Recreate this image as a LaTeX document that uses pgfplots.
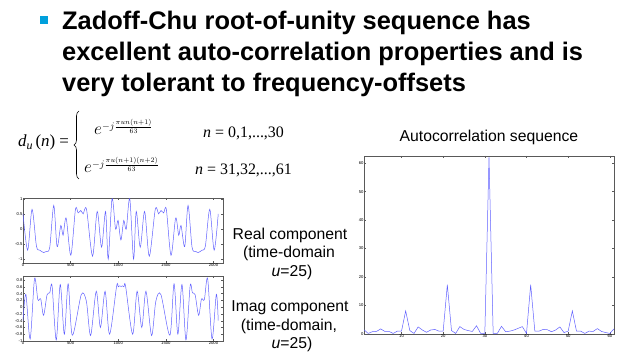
\documentclass[border=0pt]{standalone}
\usepackage{pgfplots}
\pgfplotsset{compat=1.18}
\usetikzlibrary{decorations.pathreplacing}
\usepackage{fontspec}
\setmainfont{Liberation Sans}
\newfontfamily\serif{Liberation Serif}
\definecolor{zcblue}{RGB}{95,95,255}
\definecolor{bulletblue}{RGB}{0,160,220}
\pgfplotsset{matstyle/.style={
  scale only axis,
  axis line style={black!65, line width=0.4pt},
  tick style={black!65, line width=0.3pt},
  major tick length=2bp,
  tick align=inside,
  ticklabel style={font=\fontsize{4.2}{4.5}\selectfont, inner sep=0.4pt},
  /pgf/number format/assume math mode=true,
  /pgf/number format/1000 sep={},
  scaled ticks=false,
  anchor=south west,
}}
\begin{document}
\begin{tikzpicture}
\path[use as bounding box] (0,0) rectangle (624bp,359bp);
% bullet and title
\fill[bulletblue] (40bp,335bp) rectangle (48bp,343bp);
\begin{scope}[every node/.style={anchor=base west, inner sep=0pt, font=\fontsize{25.5}{30}\selectfont\bfseries}]
\node at (62bp,329bp) {Zadoff-Chu root-of-unity sequence has};
\node at (62bp,298bp) {excellent auto-correlation properties and is};
\node at (62bp,267bp) {very tolerant to frequency-offsets};
\end{scope}
% formula
\node[anchor=base west, inner sep=0pt] at (18bp,212bp) {\serif\fontsize{17}{17}\selectfont\textit{d}\raisebox{-3bp}{\fontsize{12}{12}\selectfont\textit{u}}\,(\textit{n}) =};
\draw[line width=0.6pt, decorate, decoration={brace, amplitude=5bp}] (79bp,180bp) -- (79bp,248bp);
\node[anchor=base west, inner sep=0pt] at (94bp,224bp) {\fontsize{17}{17}\selectfont$e$\fontsize{14}{14}\selectfont$^{-j\frac{\pi u n(n+1)}{63}}$};
\node[anchor=base west, inner sep=0pt] at (84bp,186bp) {\fontsize{17}{17}\selectfont$e$\fontsize{14}{14}\selectfont$^{-j\frac{\pi u(n+1)(n+2)}{63}}$};
\node[anchor=base west, inner sep=0pt] at (203bp,221bp) {\serif\fontsize{16}{16}\selectfont\textit{n} = 0,1,...,30};
\node[anchor=base west, inner sep=0pt] at (195bp,184bp) {\serif\fontsize{16}{16}\selectfont\textit{n} = 31,32,...,61};
% side labels
\begin{scope}[every node/.style={anchor=base, inner sep=0pt, font=\fontsize{15.8}{18}\selectfont}]
\node at (290bp,119bp) {Real component};
\node at (289bp,101bp) {(time-domain};
\node at (292bp,82bp) {\textit{u}=25)};
\node at (290bp,47bp) {Imag component};
\node at (289bp,29bp) {(time-domain,};
\node at (292bp,11bp) {\textit{u}=25)};
\node at (489bp,217bp) {Autocorrelation sequence};
\end{scope}
% real part
\begin{axis}[matstyle, at={(23bp,96bp)}, width=200bp, height=65bp,
  xmin=0, xmax=2100, ymin=-1.13, ymax=1.05,
  xtick={0,500,1000,1500,2000}, ytick={-1,-0.5,0,0.5,1}]
\addplot[zcblue, line width=0.5pt, smooth] coordinates {
(0,0.52)(49,-0.70)(95,0.67)(141,-0.56)(176,-0.70)(218,-0.78)(246,-0.74)(281,-0.60)(323,0.80)(358,-0.58)(397,0.13)(421,-0.20)(453,0.38)(502,-0.87)(551,0.67)(579,0.55)(607,0.63)(632,0.52)(667,0.67)(730,-0.90)(779,0.60)(825,-0.60)(867,0.60)(895,-1.00)(935,1.03)(972,0.00)(998,0.30)(1028,-0.36)(1058,0.30)(1084,0.00)(1121,1.03)(1161,-1.00)(1189,0.60)(1231,-0.60)(1277,0.60)(1326,-0.90)(1389,0.67)(1424,0.52)(1449,0.63)(1477,0.55)(1505,0.67)(1554,-0.87)(1603,0.38)(1635,-0.20)(1659,0.13)(1698,-0.58)(1733,0.80)(1775,-0.60)(1810,-0.74)(1838,-0.78)(1880,-0.70)(1915,-0.56)(1961,0.67)(2007,-0.70)(2050,0.52)
};
\end{axis}
% imaginary part
\begin{axis}[matstyle, at={(23bp,18bp)}, width=200bp, height=65bp,
  xmin=0, xmax=2100, ymin=-1, ymax=0.92,
  xtick={0,500,1000,1500,2000}, ytick={-1,-0.8,-0.6,-0.4,-0.2,0,0.2,0.4,0.6,0.8}]
\addplot[zcblue, line width=0.5pt, smooth] coordinates {
(0,-0.40)(30,0.38)(75,-0.94)(121,0.84)(156,0.22)(186,0.24)(216,-0.24)(253,0.37)(281,0.42)(305,0.63)(349,-0.97)(391,0.67)(434,-0.80)(474,0.69)(518,-0.83)(612,0.37)(665,0.18)(710,-0.84)(769,0.47)(813,-0.60)(862,0.47)(909,-0.80)(983,0.62)(1000,0.60)(1015,0.63)(1030,0.61)(1045,0.63)(1060,0.60)(1077,0.62)(1151,-0.80)(1198,0.47)(1247,-0.60)(1291,0.47)(1350,-0.84)(1395,0.18)(1448,0.37)(1542,-0.83)(1586,0.69)(1626,-0.80)(1669,0.67)(1711,-0.97)(1755,0.63)(1779,0.42)(1807,0.37)(1844,-0.24)(1874,0.24)(1904,0.22)(1939,0.84)(1985,-0.94)(2030,0.38)(2050,-0.40)
};
\end{axis}
% autocorrelation
\begin{axis}[matstyle, at={(364bp,25bp)}, width=250bp, height=178bp,
  xmin=1, xmax=61, ymin=0, ymax=62.5,
  xtick={10,20,30,40,50,60}, ytick={0,10,20,30,40,50,60}]
\addplot[zcblue, line width=0.5pt] coordinates {
(1,1.5)(2,0.2)(3,0.8)(4,0.9)(5,1.8)(6,0.9)(7,0.9)(8,0.2)(9,1.0)(10,1.0)
(11,8.1)(12,1.2)(13,0.2)(14,2.5)(15,1.4)(16,0.6)(17,1.4)(18,1.6)(19,1.0)(20,1.0)
(21,17.3)(22,1.2)(23,0.2)(24,2.6)(25,1.6)(26,1.2)(27,0.9)(28,2.9)(29,0.2)(30,0.2)
(31,62)(32,0.2)(33,0.2)(34,2.7)(35,0.8)(36,1.0)(37,1.4)(38,2.0)(39,2.6)(40,0.2)
(41,17.3)(42,1.0)(43,1.0)(44,1.6)(45,1.5)(46,0.8)(47,1.4)(48,2.5)(49,0.5)(50,1.0)
(51,8.1)(52,1.0)(53,1.0)(54,0.2)(55,1.0)(56,0.9)(57,1.9)(58,0.9)(59,0.5)(60,0.2)(61,1.8)
};
\end{axis}
\end{tikzpicture}
\end{document}
